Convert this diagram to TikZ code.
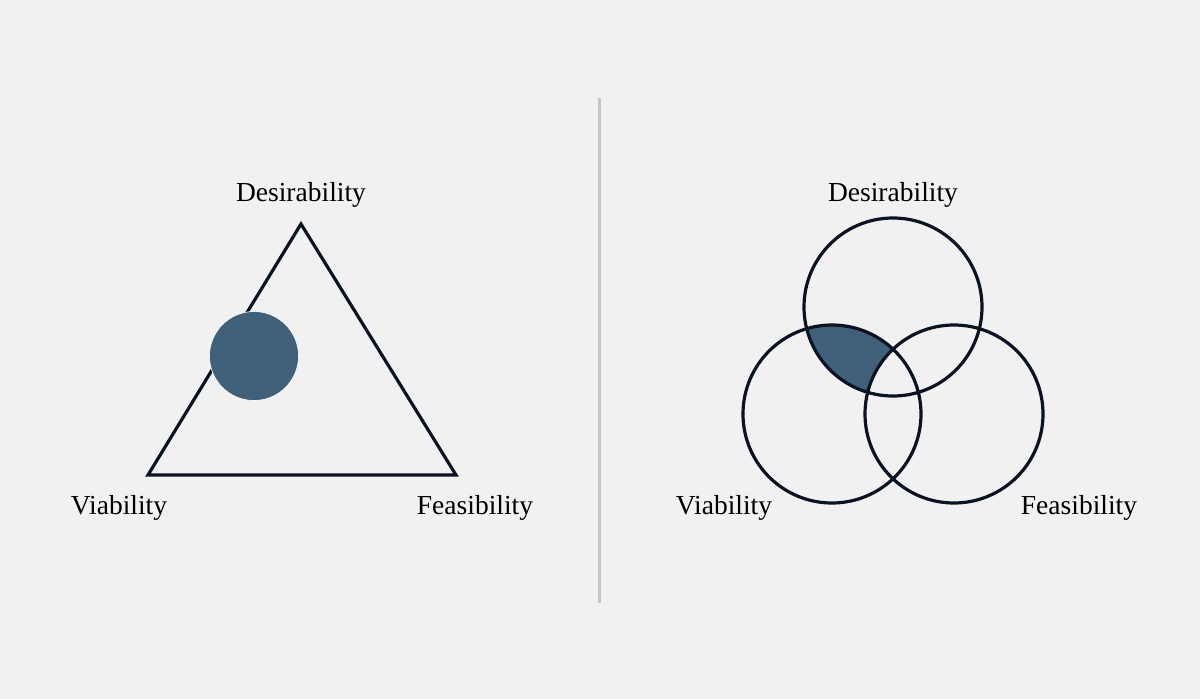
\documentclass[tikz,border=0pt]{standalone}
\usepackage{fontspec}
\setmainfont{Liberation Serif}
\definecolor{bg}{HTML}{F1F1F1}
\definecolor{ink}{HTML}{0B1322}
\definecolor{blob}{HTML}{3F6078}
\definecolor{divider}{HTML}{C6C6C6}
\begin{document}
\begin{tikzpicture}[x=1pt,y=-1pt,
  outline/.style={draw=ink,line width=3.2pt},
  lbl/.style={font=\fontsize{27.5}{32}\selectfont,text=black,inner sep=0pt,anchor=base}]
\fill[bg] (0,0) rectangle (1200,699);
\useasboundingbox (0,0) rectangle (1200,699);
% divider
\draw[divider,line width=3pt] (599,98) -- (599,603);
% left: triangle
\coordinate (ta) at (301,224);
\coordinate (tl) at (148,475);
\coordinate (tr) at (456,475);
\draw[outline,line join=miter] (ta) -- (tl) -- (tr) -- cycle;
\node[circle,fill=blob,draw=white,line width=0.6pt,minimum size=89pt,inner sep=0pt] (dot) at (254,356) {};
\node[lbl] (d1) at (301,201) {Desirability};
\node[lbl] (v1) at (119,514) {Viability};
\node[lbl] (f1) at (475,514) {Feasibility};
% right: venn
\coordinate (ct) at (893,307);
\coordinate (cl) at (832,414);
\coordinate (cr) at (954,414);
\begin{scope}
  \clip (ct) circle[radius=89pt];
  \clip (cl) circle[radius=89pt];
  \fill[blob,even odd rule] (700,200) rectangle (1100,600) (cr) circle[radius=89pt];
\end{scope}
\draw[outline] (ct) circle[radius=89pt];
\draw[outline] (cl) circle[radius=89pt];
\draw[outline] (cr) circle[radius=89pt];
\node[lbl] (d2) at (893,201) {Desirability};
\node[lbl] (v2) at (724,514) {Viability};
\node[lbl] (f2) at (1079,514) {Feasibility};
\end{tikzpicture}
\end{document}
